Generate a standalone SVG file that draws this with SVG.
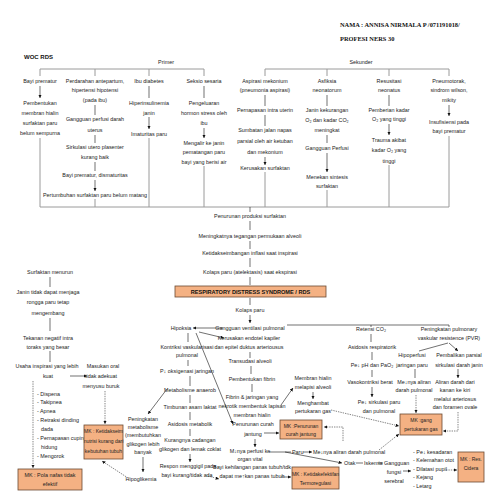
<svg xmlns="http://www.w3.org/2000/svg" width="495" height="495" viewBox="0 0 495 495">
<defs>
<style>
text{font-family:"Liberation Sans Narrow","Liberation Sans",Arial,sans-serif;font-size:5.4px;fill:#222;text-anchor:middle}
text.s{text-anchor:start}
text.hd{font-family:"Liberation Serif","Times New Roman",serif;font-weight:bold;font-size:6.4px;fill:#111;text-anchor:start}
text.b{font-weight:bold;font-size:6px;text-anchor:start;fill:#111}
text.rds{font-weight:bold;font-size:5.6px;fill:#111}
text.m{font-size:5px}
.bus{stroke:#9a9a9a;stroke-width:1;fill:none}
.ar{stroke:#111;stroke-width:0.6;fill:none;marker-end:url(#ah)}
.ln{stroke:#111;stroke-width:0.6;fill:none}
.da{stroke:#333;stroke-width:0.6;stroke-dasharray:1.4 1;fill:none;marker-end:url(#ah)}
.mk{fill:#f4b183;stroke:#6b4a33;stroke-width:0.8}
</style>
<marker id="ah" viewBox="0 0 6 6" refX="6" refY="3" markerWidth="3.4" markerHeight="3.4" orient="auto" markerUnits="userSpaceOnUse"><path d="M0,0 L6,3 L0,6 z" fill="#111"/></marker>
</defs>
<rect width="495" height="495" fill="#fff"/>

<g id="header">
<text class="hd" x="340" y="27">NAMA : ANNISA NIRMALA P  /071191018/</text>
<text class="hd" x="340" y="41">PROFESI NERS 30</text>
<text class="b" x="24" y="59">WOC RDS</text>
<text x="166" y="64">Primer</text>
<text x="361" y="64">Sekunder</text>
</g>

<g id="connectors">
<path class="bus" d="M40 69H204M40 69V76M95 69V76M149 69V76M204 69V76"/>
<path class="bus" d="M265 69H449M265 69V76M327 69V76M389 69V76M449 69V76"/>
<path class="bus" d="M40 207H449M40 138V207M95 199V207M149 138V207M204 166V207M265 172V207M327 190V207M389 165V207M449 136V207"/>
<path class="ar" d="M40 86V98"/>
<path class="ar" d="M95 105V115M95 135V143M95 162V171M95 180V191"/>
<path class="ar" d="M149 86V98M149 117V129"/>
<path class="ar" d="M204 86V98M204 128V138"/>
<path class="ar" d="M265 95V106M265 115V126M265 157V165"/>
<path class="ar" d="M327 95V106M327 135V143M327 153V172"/>
<path class="ar" d="M389 95V106M389 124V135"/>
<path class="ar" d="M449 105V116"/>
<path class="ar" d="M250 207V212M250 221V230M250 241V249M250 258V267M250 277V285M250 298V305M250 315V323"/>
<path class="ln" d="M287 325H449M371 325V327M449 325V327"/>
<path class="ar" d="M50 277V287M50 318V331M50 351V362M70 376H87"/>
<path class="da" d="M33 381V468"/>
<path class="da" d="M105 391V424"/>
<path class="ar" d="M143 457V472"/>
<path class="da" d="M128 478L102 461"/>
<path class="ar" d="M167 389L148 414"/>
<path class="ar" d="M223 328H193"/>
<path class="ar" d="M199 332L224 338"/>
<path class="ar" d="M196 333L233 424"/>
<path class="ar" d="M188 333V342M188 360V366M190 376V386M190 395V403M190 412V420M190 429V436M190 454V462"/>
<path class="da" d="M208 476L219 479"/>
<path class="ar" d="M281 477H291"/>
<path class="ar" d="M250 352V358M251 366V374M252 384V392M255 439V447"/>
<path class="ar" d="M281 405L293 388"/>
<path class="ar" d="M313 392V399"/>
<path class="da" d="M331 410L399 426"/>
<path class="ar" d="M264 433H279"/>
<path class="da" d="M343 441V427H324"/>
<path class="ln" d="M269 452H285"/>
<path class="ar" d="M285 452H291M303 452H312"/>
<path class="ar" d="M285 452L342 463"/>
<path class="da" d="M379 450L399 434"/>
<path class="ar" d="M356 463H363M378 463H383M403 471H411"/>
<path class="da" d="M446 470H457"/>
<path class="ar" d="M371 334V342M372 352V360M372 370V377M372 387V397"/>
<path class="ar" d="M448 343L419 351M449 343L458 351"/>
<path class="ar" d="M415 369V378M458 369V378"/>
<path class="da" d="M416 395V413"/>
<path class="da" d="M458 412V431H443"/>
</g>

<g id="n-bayi-prematur">
<text x="40" y="83">Bayi prematur</text>
<text x="40" y="105">Pembentukan</text>
<text x="40" y="115">membran hialin</text>
<text x="40" y="125">surfaktan paru</text>
<text x="40" y="135">belum sempurna</text>
</g>
<g id="n-perdarahan">
<text x="95" y="83">Perdarahan antepartum,</text>
<text x="95" y="92">hipertensi hipotensi</text>
<text x="95" y="102">(pada ibu)</text>
<text x="95" y="121">Gangguan perfusi darah</text>
<text x="95" y="132">uterus</text>
<text x="95" y="149">Sirkulasi utero plasenter</text>
<text x="95" y="159">kurang baik</text>
<text x="95" y="177">Bayi prematur, dismaturitas</text>
<text x="95" y="197">Pertumbuhan surfaktan paru belum matang</text>
</g>
<g id="n-ibu-diabetes">
<text x="149" y="83">Ibu diabetes</text>
<text x="149" y="105">Hiperinsulinemia</text>
<text x="149" y="115">janin</text>
<text x="149" y="136">Imaturitas paru</text>
</g>
<g id="n-seksio">
<text x="204" y="83">Seksio sesaria</text>
<text x="204" y="105">Pengeluaran</text>
<text x="204" y="115">hormon stress oleh</text>
<text x="204" y="125">ibu</text>
<text x="204" y="145">Mengalir ke janin</text>
<text x="204" y="154">pematangan paru</text>
<text x="204" y="164">bayi yang berisi air</text>
</g>
<g id="n-aspirasi">
<text x="265" y="83">Aspirasi mekonium</text>
<text x="265" y="92">(pneumonia aspirasi)</text>
<text x="265" y="112">Pernapasan intra uterin</text>
<text x="265" y="132">Sumbatan jalan napas</text>
<text x="265" y="143">parsial oleh air ketuban</text>
<text x="265" y="154">dan mekonium</text>
<text x="265" y="170">Kerusakan surfaktan</text>
</g>
<g id="n-asfiksia">
<text x="327" y="83">Asfiksia</text>
<text x="327" y="92">neonatorum</text>
<text x="327" y="112">Janin kekurangan</text>
<text x="327" y="122">O₂ dan kadar CO₂</text>
<text x="327" y="132">meningkat</text>
<text x="327" y="150">Gangguan Perfusi</text>
<text x="327" y="179">Menekan sintesis</text>
<text x="327" y="188">surfaktan</text>
</g>
<g id="n-resusitasi">
<text x="389" y="83">Resusitasi</text>
<text x="389" y="92">neonatus</text>
<text x="389" y="112">Pemberian kadar</text>
<text x="389" y="121">O₂ yang tinggi</text>
<text x="389" y="142">Trauma akibat</text>
<text x="389" y="152">kadar O₂ yang</text>
<text x="389" y="163">tinggi</text>
</g>
<g id="n-pneumotorak">
<text x="449" y="83">Pneumotorak,</text>
<text x="449" y="92">sindrom wilson,</text>
<text x="449" y="102">mikity</text>
<text x="449" y="124">Insufisiensi pada</text>
<text x="449" y="133">bayi prematur</text>
</g>

<g id="n-spine">
<text x="250" y="218">Penurunan produksi surfaktan</text>
<text x="250" y="238">Meningkatnya tegangan permukaan alveoli</text>
<text x="250" y="255">Ketidakseimbangan inflasi saat inspirasi</text>
<text x="250" y="274">Kolaps paru (atelektasis) saat ekspirasi</text>
</g>
<g id="n-rds">
<rect class="mk" x="175" y="286" width="151" height="11"/>
<text class="rds" x="250.5" y="293.6">RESPIRATORY DISTRESS SYNDROME / RDS</text>
</g>
<g id="n-kolaps">
<text x="250" y="312">Kolaps paru</text>
<text x="250" y="330">Gangguan ventilasi pulmonal</text>
</g>

<g id="n-left">
<text x="50" y="274">Surfaktan menurun</text>
<text x="48" y="294">Janin tidak dapat menjaga</text>
<text x="48" y="304">rongga paru tetap</text>
<text x="48" y="315">mengembang</text>
<text x="48" y="340">Tekanan negatif intra</text>
<text x="48" y="349">toraks yang besar</text>
<text x="47" y="368">Usaha inspirasi yang lebih</text>
<text x="48" y="378">kuat</text>
</g>
<g id="n-masukan">
<text x="103" y="368">Masukan oral</text>
<text x="101" y="378">tidak adekuat</text>
<text x="101" y="388">menyusu buruk</text>
</g>
<g id="n-gejala">
<text class="s" x="37" y="396">- Dispena</text>
<text class="s" x="37" y="404">- Takipnea</text>
<text class="s" x="37" y="413">- Apnea</text>
<text class="s" x="37" y="422">- Retraksi dinding</text>
<text class="s" x="41" y="431">dada</text>
<text class="s" x="37" y="440">- Pernapasan cuping</text>
<text class="s" x="41" y="449">hidung</text>
<text class="s" x="37" y="458">- Mengorok</text>
</g>
<g id="mk-pola-nafas">
<rect class="mk" x="18" y="469" width="64" height="21"/>
<text x="50" y="477">MK : Pola nafas tidak</text>
<text x="50" y="486">efektif</text>
</g>
<g id="mk-nutrisi">
<rect class="mk" x="84" y="425" width="39" height="34"/>
<text class="m" x="103.5" y="433">MK : Ketidakseim</text>
<text class="m" x="103.5" y="443">nutrisi kurang dari</text>
<text class="m" x="103.5" y="453">kebutuhan tubuh</text>
</g>
<g id="n-metabolisme">
<text x="143" y="421">Peningkatan</text>
<text x="143" y="429">metabolisme</text>
<text x="143" y="437">(membutuhkan</text>
<text x="143" y="446">glikogen  lebih</text>
<text x="143" y="454">banyak</text>
<text x="141" y="481">Hipoglikemia</text>
</g>

<g id="n-hipoksia">
<text x="181" y="330">Hipoksia</text>
<text x="187" y="349">Kontriksi vaskularisasi</text>
<text x="187" y="357">pulmonal</text>
<text x="187" y="373">P↓ oksigenasi jaringan</text>
<text x="190" y="392">Metabolisme anaerob</text>
<text x="190" y="409">Timbunan asam laktat</text>
<text x="190" y="426">Asidosis metabolik</text>
<text x="190" y="442">Kurangnya cadangan</text>
<text x="190" y="451">glikogen dan lemak coklat</text>
<text x="188" y="468">Respon menggigil pada</text>
<text x="187" y="477">bayi kurang/tidak ada</text>
</g>
<g id="n-panas">
<text x="252" y="469">Bayi kehilangan panas tubuh/tdk</text>
<text x="252" y="478">dapat me↑kan panas tubuh</text>
</g>
<g id="mk-termoregulasi">
<rect class="mk" x="292" y="467" width="47" height="22"/>
<text class="m" x="315.5" y="475.5">MK : Ketidakefektifan</text>
<text class="m" x="315.5" y="485">Termoregulasi</text>
</g>

<g id="n-kerusakan">
<text x="249" y="340">Kerusakan endotel kapiler</text>
<text x="249" y="349">dan epitel duktus arteriousus</text>
<text x="250" y="363">Transudasi alveoli</text>
<text x="252" y="381">Pembentukan fibrin</text>
<text x="252" y="399">Fibrin &amp; jaringan yang</text>
<text x="252" y="408">nekrotik membentuk lapisan</text>
<text x="252" y="417">membran hialin</text>
</g>
<g id="n-membran">
<text x="313" y="380">Membran hialin</text>
<text x="313" y="389">melapisi alveoli</text>
<text x="313" y="405">Menghambat</text>
<text x="313" y="413">pertukaran gas</text>
</g>
<g id="n-curah">
<text x="253" y="426">Penurunan curah</text>
<text x="253" y="436">jantung</text>
<text x="250" y="453">M↓nya perfusi ke</text>
<text x="250" y="461">organ vital</text>
</g>
<g id="mk-curah">
<rect class="mk" x="280" y="420" width="42" height="19"/>
<text class="m" x="301" y="428">MK :Penurunan</text>
<text class="m" x="301" y="436">curah jantung</text>
</g>
<g id="n-paru">
<text class="s" x="292" y="454">Paru</text>
<text class="s" x="313" y="454">Me↓nya aliran darah pulmonal</text>
</g>
<g id="n-otak">
<text class="s" x="344" y="465">Otak</text>
<text class="s" x="364" y="465">Iskemia</text>
<text class="s" x="384" y="465">Gangguan</text>
<text x="394" y="474">fungsi</text>
<text x="394" y="483">serebral</text>
</g>
<g id="n-gejala-otak">
<text class="s" x="413" y="454">- Pe↓ kesadaran</text>
<text class="s" x="413" y="462">- Kelemahan otot</text>
<text class="s" x="413" y="471">- Dilatasi pupil</text>
<text class="s" x="413" y="479">- Kejang</text>
<text class="s" x="413" y="488">- Letarg</text>
</g>
<g id="mk-cidera">
<rect class="mk" x="458" y="452" width="26" height="30"/>
<text class="m" x="471" y="461">MK : Res.</text>
<text class="m" x="471" y="470">Cidera</text>
</g>

<g id="n-retensi">
<text x="371" y="331">Retensi CO₂</text>
<text x="372" y="349">Asidosis respiratorik</text>
<text x="372" y="367">Pe↓ pH dan PaO₂</text>
<text x="370" y="384">Vasokontriksi berat</text>
<text x="379" y="404">Pe↓ sirkulasi paru</text>
<text x="379" y="413">dan pulmonal</text>
</g>
<g id="n-pvr">
<text x="449" y="331">Peningkatan pulmonary</text>
<text x="449" y="340">vaskular resistence (PVR)</text>
</g>
<g id="n-hipoperfusi">
<text x="412" y="357">Hipoperfusi</text>
<text x="412" y="367">jaringan paru</text>
<text x="414" y="384">Me↓nya aliran</text>
<text x="414" y="392">darah pulmonal</text>
</g>
<g id="n-pembalikan">
<text x="459" y="357">Pembalikan parsial</text>
<text x="459" y="367">sirkulasi darah janin</text>
<text x="455" y="384">Aliran darah dari</text>
<text x="455" y="392">kanan ke kiri</text>
<text x="455" y="401">melalui arteriosus</text>
<text x="455" y="409">dan foramen ovale</text>
</g>
<g id="mk-gas">
<rect class="mk" x="400" y="414" width="42" height="21"/>
<text class="m" x="421" y="422">MK :gang</text>
<text class="m" x="421" y="431">pertukaran gas</text>
</g>
</svg>
